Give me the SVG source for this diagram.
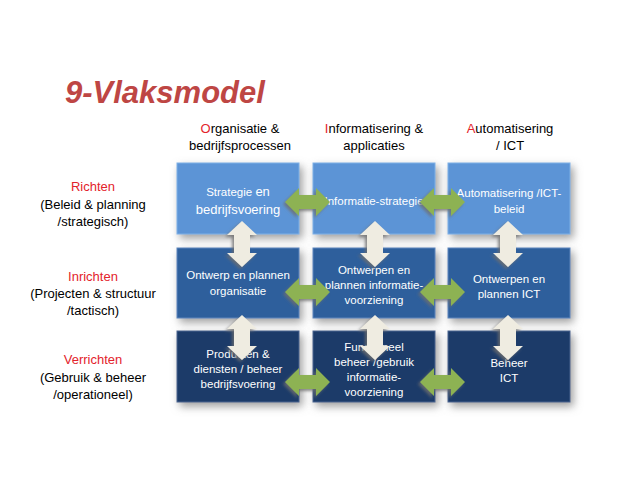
<svg xmlns="http://www.w3.org/2000/svg" width="638" height="478" viewBox="0 0 638 478">
<defs>
<filter id="sh" x="-20%" y="-20%" width="150%" height="150%">
<feDropShadow dx="3" dy="4" stdDeviation="4" flood-color="#7f7f7f" flood-opacity="0.75"/>
</filter>
<filter id="ash" x="-30%" y="-30%" width="160%" height="160%">
<feDropShadow dx="-2" dy="2" stdDeviation="1.5" flood-color="#6e6e6e" flood-opacity="0.8"/>
</filter>
<style>
.t{font-family:"Liberation Sans",Arial,sans-serif;}
.h{font-size:13px;fill:#000;text-anchor:middle;}
.lab{font-size:13px;fill:#000;text-anchor:middle;}
.t.r,tspan.r{fill:#e3232b;}
.bx{font-size:11.5px;fill:#fff;text-anchor:middle;}
.b1{fill:#5b94d6;stroke:#7fb0e6;stroke-width:1;}
.b2{fill:#2f5e9c;stroke:#5d86bd;stroke-width:1;}
.b3{fill:#1c3a69;stroke:#4a6590;stroke-width:1;}
.g{fill:#8db252;filter:url(#ash);}
.c{fill:#efece1;filter:url(#ash);}
</style>
</defs>
<rect width="638" height="478" fill="#fff"/>
<text class="t" x="65" y="103" font-size="31" font-weight="bold" font-style="italic" fill="#be4644">9-Vlaksmodel</text>
<g id="headers">
<text class="t h" x="240" y="133"><tspan class="r">O</tspan>rganisatie &amp;</text>
<text class="t h" x="240" y="150">bedrijfsprocessen</text>
<text class="t h" x="374" y="133"><tspan class="r">I</tspan>nformatisering &amp;</text>
<text class="t h" x="374" y="150">applicaties</text>
<text class="t h" x="510" y="133"><tspan class="r">A</tspan>utomatisering</text>
<text class="t h" x="510" y="150">/ ICT</text>
</g>
<g id="rowlabels">
<text class="t lab r" x="93" y="191">Richten</text>
<text class="t lab" x="93" y="209">(Beleid &amp; planning</text>
<text class="t lab" x="93" y="226">/strategisch)</text>
<text class="t lab r" x="93" y="281">Inrichten</text>
<text class="t lab" x="93" y="298">(Projecten &amp; structuur</text>
<text class="t lab" x="93" y="315">/tactisch)</text>
<text class="t lab r" x="93" y="364">Verrichten</text>
<text class="t lab" x="93" y="382">(Gebruik &amp; beheer</text>
<text class="t lab" x="93" y="399">/operationeel)</text>
</g>
<g id="n11"><rect class="b1" x="177" y="163" width="122" height="71" filter="url(#sh)"/>
<text class="t bx" x="238" y="196">Strategie <tspan style="font-size:13px">en</tspan></text>
<text class="t bx" x="238" y="214" style="font-size:13px">bedrijfsvoering</text></g>
<g id="n12"><rect class="b1" x="313" y="163" width="122" height="71" filter="url(#sh)"/>
<text class="t bx" x="374" y="205">Informatie-strategie</text></g>
<g id="n13"><rect class="b1" x="448" y="163" width="122" height="71" filter="url(#sh)"/>
<text class="t bx" x="509" y="197">Automatisering /ICT-</text>
<text class="t bx" x="509" y="213">beleid</text></g>
<g id="n21"><rect class="b2" x="177" y="248" width="122" height="70" filter="url(#sh)"/>
<text class="t bx" x="238" y="279">Ontwerp en plannen</text>
<text class="t bx" x="238" y="295">organisatie</text></g>
<g id="n22"><rect class="b2" x="313" y="248" width="122" height="70" filter="url(#sh)"/>
<text class="t bx" x="374" y="274">Ontwerpen en</text>
<text class="t bx" x="374" y="289">plannen informatie-</text>
<text class="t bx" x="374" y="304">voorziening</text></g>
<g id="n23"><rect class="b2" x="448" y="248" width="122" height="70" filter="url(#sh)"/>
<text class="t bx" x="509" y="283">Ontwerpen en</text>
<text class="t bx" x="509" y="298">plannen ICT</text></g>
<g id="n31"><rect class="b3" x="177" y="331" width="122" height="71" filter="url(#sh)"/>
<text class="t bx" x="238" y="358">Producten &amp;</text>
<text class="t bx" x="238" y="373">diensten / beheer</text>
<text class="t bx" x="238" y="388">bedrijfsvoering</text></g>
<g id="n32"><rect class="b3" x="313" y="331" width="122" height="71" filter="url(#sh)"/>
<text class="t bx" x="374" y="351">Functioneel</text>
<text class="t bx" x="374" y="366">beheer /gebruik</text>
<text class="t bx" x="374" y="381">informatie-</text>
<text class="t bx" x="374" y="396">voorziening</text></g>
<g id="n33"><rect class="b3" x="448" y="331" width="122" height="71" filter="url(#sh)"/>
<text class="t bx" x="509" y="367">Beheer</text>
<text class="t bx" x="509" y="382">ICT</text></g>
<g id="connectors">
<polygon class="g" points="285,202 299,188 299,195 316,195 316,188 330,202 316,216 316,209 299,209 299,216"/>
<polygon class="g" points="420,202 434,188 434,195 451,195 451,188 465,202 451,216 451,209 434,209 434,216"/>
<polygon class="g" points="285,292 299,278 299,285 316,285 316,278 330,292 316,306 316,299 299,299 299,306"/>
<polygon class="g" points="420,292 434,278 434,285 451,285 451,278 465,292 451,306 451,299 434,299 434,306"/>
<polygon class="g" points="285,382 299,368 299,375 316,375 316,368 330,382 316,396 316,389 299,389 299,396"/>
<polygon class="g" points="420,382 434,368 434,375 451,375 451,368 465,382 451,396 451,389 434,389 434,396"/>
<polygon class="c" points="242,221 257,235 250,235 250,253 257,253 242,267 227,253 234,253 234,235 227,235"/>
<polygon class="c" points="375,221 390,235 383,235 383,253 390,253 375,267 360,253 367,253 367,235 360,235"/>
<polygon class="c" points="508,221 523,235 516,235 516,253 523,253 508,267 493,253 500,253 500,235 493,235"/>
<polygon class="c" points="242,315 257,329 250,329 250,346 257,346 242,360 227,346 234,346 234,329 227,329"/>
<polygon class="c" points="375,315 390,329 383,329 383,346 390,346 375,360 360,346 367,346 367,329 360,329"/>
<polygon class="c" points="508,315 523,329 516,329 516,346 523,346 508,360 493,346 500,346 500,329 493,329"/>
</g>
</svg>
